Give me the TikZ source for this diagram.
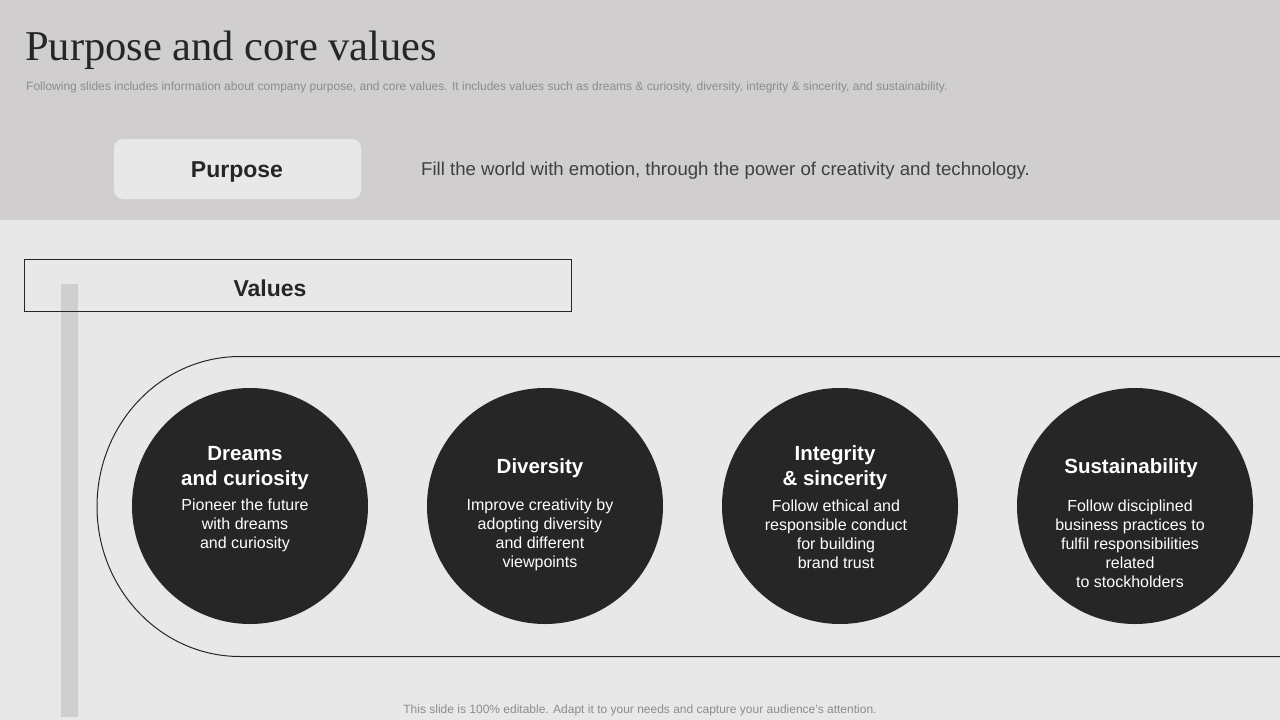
\documentclass[tikz,border=0pt]{standalone}
\usepackage{fontspec}
\setmainfont{Liberation Sans}
\newfontfamily\titlefont{Liberation Serif}
\definecolor{topbg}{HTML}{D0CECF}
\definecolor{lowbg}{HTML}{E8E8E8}
\definecolor{ink}{HTML}{262626}
\definecolor{greytxt}{HTML}{8C8C8C}
\definecolor{stmt}{HTML}{404040}
\tikzset{
  valcircle/.style={circle, fill=ink, minimum size=236pt, inner sep=0pt},
  ctitle/.style={text=white, align=center, font=\fontsize{20.5}{25}\selectfont\bfseries, inner sep=0pt},
  cbody/.style={text=white, align=center, font=\fontsize{16}{19}\selectfont, inner sep=0pt},
  frameline/.style={draw=ink, line width=0.8pt},
}
\begin{document}
\begin{tikzpicture}[x=1pt,y=-1pt]
\useasboundingbox (0,0) rectangle (1280,720);
% backgrounds
\fill[lowbg] (0,0) rectangle (1280,720);
\fill[topbg] (0,0) rectangle (1280,220);
% title
\node[anchor=west, inner sep=0pt, text=ink, font=\titlefont\fontsize{42.5}{48}\selectfont] (title) at (25,50) {Purpose and core values};
\node[anchor=west, inner sep=0pt, text=greytxt, font=\fontsize{12}{14}\selectfont] (sub) at (26,87) {Following slides includes information about company purpose, and core values. It includes values such as dreams \& curiosity, diversity, integrity \& sincerity, and sustainability.};
% purpose
\node[fill=lowbg, rounded corners=9pt, minimum width=247pt, minimum height=60pt, inner sep=0pt] (purpose) at (237.5,169) {};
\node[inner sep=0pt, text=ink, font=\fontsize{23}{27}\selectfont\bfseries] (purposetxt) at (237,172) {Purpose};
\node[anchor=west, inner sep=0pt, text=stmt, font=\fontsize{18.6}{22}\selectfont] (stmt) at (421,171) {Fill the world with emotion, through the power of creativity and technology.};
% bar and values box
\fill[topbg] (61,284) rectangle (78,717);
\node[frameline, minimum width=547pt, minimum height=52pt, inner sep=0pt] (values) at (297.5,285) {};
\node[inner sep=0pt, text=ink, font=\fontsize{23}{27}\selectfont\bfseries] (valuestxt) at (270,288) {Values};
% frame
\coordinate (ftop) at (1281,356.5);
\coordinate (fbot) at (1281,656.5);
\draw[ink, line width=1pt] (ftop) -- (240,356.5) arc[start angle=270, end angle=90, x radius=143, y radius=150] -- (fbot);
% circles
\node[valcircle] (c1) at (250,506) {};
\node[valcircle] (c2) at (545,506) {};
\node[valcircle] (c3) at (840,506) {};
\node[valcircle] (c4) at (1135,506) {};
\node[ctitle] (t1) at (245,468) {Dreams\\and curiosity};
\node[cbody] (b1) at (245,525) {Pioneer the future\\with dreams\\and curiosity};
\node[ctitle] (t2) at (540,468) {Diversity};
\node[cbody] (b2) at (540,534.5) {Improve creativity by\\adopting diversity\\and different\\viewpoints};
\node[ctitle] (t3) at (835,468) {Integrity\\\& sincerity};
\node[cbody] (b3) at (836,534.5) {Follow ethical and\\responsible conduct\\for building\\brand trust};
\node[ctitle] (t4) at (1131,468) {Sustainability};
\node[cbody] (b4) at (1130,544) {Follow disciplined\\business practices to\\fulfil responsibilities\\related\\to stockholders};
% footer
\node[inner sep=0pt, text=greytxt, font=\fontsize{12}{14}\selectfont] (footer) at (640,710) {This slide is 100\% editable. Adapt it to your needs and capture your audience's attention.};
\end{tikzpicture}
\end{document}
